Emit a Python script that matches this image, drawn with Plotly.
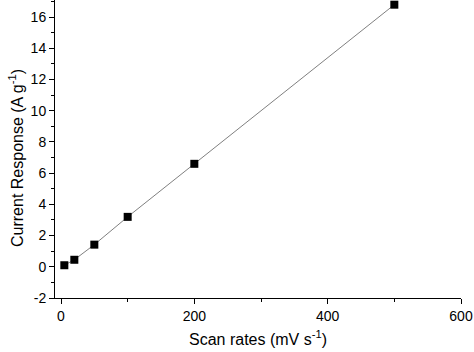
import plotly.graph_objects as go

scan_rates = [5, 20, 50, 100, 200, 500]
current = [0.1, 0.45, 1.42, 3.2, 6.6, 16.8]
x_ticks = [0, 200, 400, 600]
y_ticks = list(range(-2, 17, 2))
y_ticktext = [str(v) for v in y_ticks]

fig = go.Figure()
fig.add_trace(go.Scatter(
    x=scan_rates, y=current, mode="lines+markers",
    line=dict(color="#808080", width=1),
    marker=dict(symbol="square", size=8, color="black"),
    showlegend=False,
))

font = "Liberation Sans, Arial, sans-serif"
fig.update_layout(
    width=474, height=352,
    margin=dict(l=55, r=13, t=0, b=54),
    paper_bgcolor="white", plot_bgcolor="white",
    font=dict(family=font, color="black", size=14),
)
fig.update_xaxes(
    range=[-9, 600], tickvals=x_ticks,
    ticks="outside", ticklen=5, tickwidth=1, tickcolor="black",
    minor=dict(tickvals=[100, 300, 500], ticks="outside", ticklen=3, tickcolor="black"),
    showline=True, linecolor="black", linewidth=1, showgrid=False, zeroline=False,
)
fig.update_yaxes(
    range=[-2, 17.1], tickvals=y_ticks, ticktext=y_ticktext,
    ticks="outside", ticklen=5, tickwidth=1, tickcolor="black",
    minor=dict(tickvals=list(range(-1, 18, 2)), ticks="outside", ticklen=3, tickcolor="black"),
    showline=True, linecolor="black", linewidth=1, showgrid=False, zeroline=False,
)
fig.add_annotation(
    text="Scan rates (mV s<sup>-1</sup>)", xref="paper", yref="paper",
    x=(258 - 55) / 406, y=-(338 - 298) / 298, showarrow=False,
    xanchor="center", yanchor="middle", font=dict(size=16),
)
fig.add_annotation(
    text="Current Response (A g<sup>-1</sup>)", xref="paper", yref="paper",
    x=-(55 - 16) / 406, y=(298 - 158) / 298, showarrow=False, textangle=-90,
    xanchor="center", yanchor="middle", font=dict(size=16),
)
fig.write_html("out.html")
